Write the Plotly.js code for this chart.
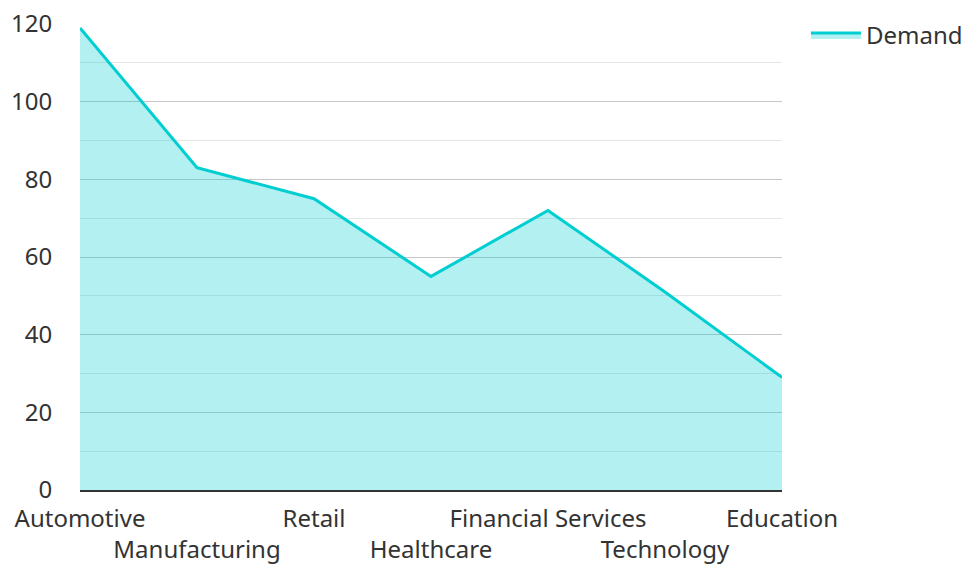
<!DOCTYPE html>
<html>
<head>
<meta charset="utf-8">
<script src="https://cdn.plot.ly/plotly-3.0.1.min.js"></script>
<style>html,body{margin:0;padding:0;background:#fff;}#chart{width:968px;height:564px;}</style>
</head>
<body>
<div id="chart"></div>
<script>
const categories = ["Automotive", "Manufacturing", "Retail", "Healthcare", "Financial Services", "Technology", "Education"];
const demand = [119, 83, 75, 55, 72, 51, 29];
const tickLabels = ["Automotive", "<br>Manufacturing", "Retail", "<br>Healthcare", "Financial Services", "<br>Technology", "Education"];
const yTicks = [0, 20, 40, 60, 80, 100, 120];

const trace = {
  x: categories,
  y: demand,
  type: 'scatter',
  mode: 'lines',
  name: 'Demand',
  fill: 'tozeroy',
  fillcolor: 'rgba(0,206,209,0.3)',
  line: {color: '#00CED1', width: 3}
};

const layout = {
  width: 968,
  height: 564,
  margin: {l: 80, r: 186, t: 24, b: 74},
  paper_bgcolor: '#fff',
  plot_bgcolor: '#fff',
  font: {family: 'Noto Sans, sans-serif', size: 24, color: '#333'},
  showlegend: true,
  legend: {xref: 'container', yref: 'container', x: 0.8326, y: 0.977, xanchor: 'left', yanchor: 'top', itemwidth: 50, font: {size: 24, color: '#333'}},
  xaxis: {
    type: 'category',
    tickmode: 'array',
    tickvals: categories,
    ticktext: tickLabels,
    tickangle: 0,
    range: [0, 6],
    showgrid: false,
    zeroline: false,
    showline: true,
    linecolor: '#333',
    linewidth: 2,
    ticks: 'outside',
    ticklen: 6,
    tickcolor: 'rgba(0,0,0,0)',
    automargin: false
  },
  yaxis: {
    range: [0, 120],
    tickvals: yTicks,
    showgrid: true,
    gridcolor: '#c6c6c6',
    gridwidth: 1,
    minor: {dtick: 10, showgrid: true, gridcolor: '#e6e6e6', gridwidth: 1},
    zeroline: false,
    showline: false,
    ticks: 'outside',
    ticklen: 22,
    tickcolor: 'rgba(0,0,0,0)',
    automargin: false
  }
};

Plotly.newPlot('chart', [trace], layout, {displayModeBar: false, staticPlot: true});
</script>
</body>
</html>
